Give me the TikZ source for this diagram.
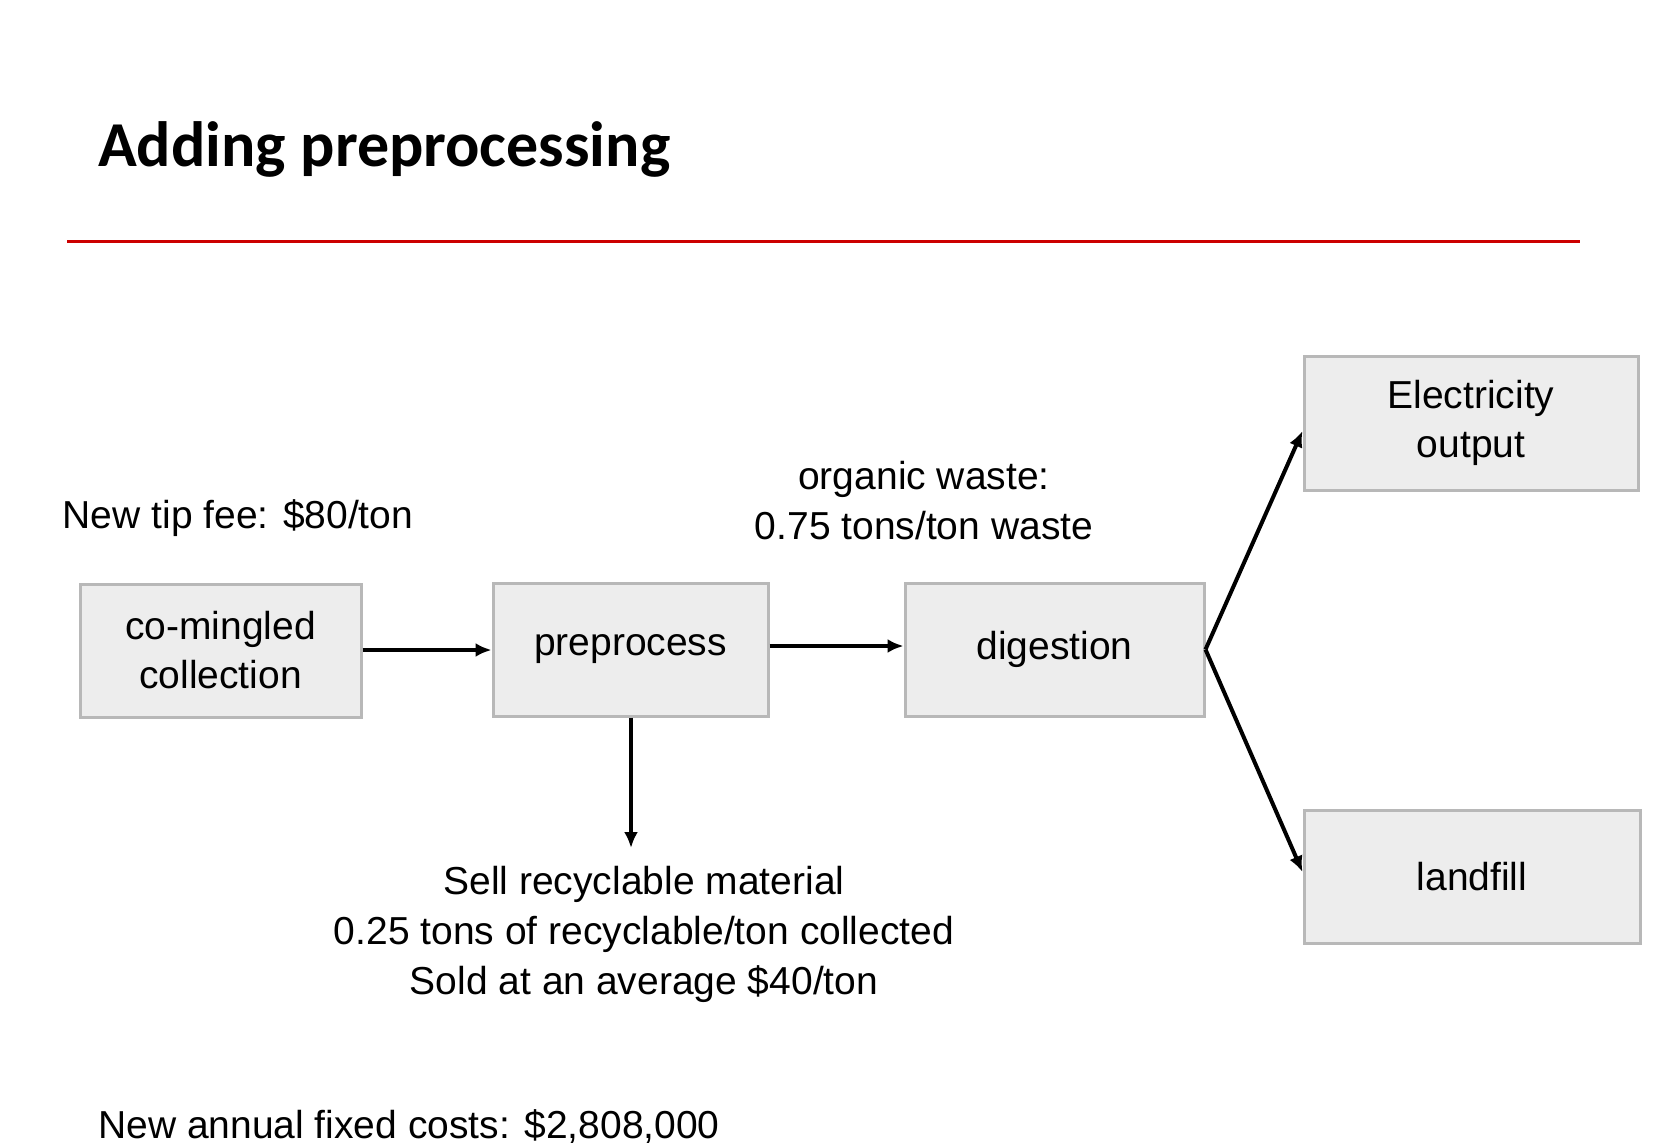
\documentclass[tikz,border=0pt]{standalone}
\usepackage{fontspec}
\setmainfont{Liberation Sans}
\newfontfamily\titlefont{Carlito}
\begin{document}
\begin{tikzpicture}[x=1pt,y=-1pt,
  box/.style={draw=black!28,fill=black!7,line width=3pt,inner sep=0pt,align=center,font=\fontsize{39}{49}\selectfont},
  lbl/.style={align=center,font=\fontsize{39}{50}\selectfont,inner sep=0pt},
  arr/.style={line width=4pt,-{Latex[length=16pt,width=14pt]}}]
\usetikzlibrary{arrows.meta}
\useasboundingbox (0,0) rectangle (1660,1148);
\node[anchor=west,font=\titlefont\bfseries\fontsize{64}{70}\selectfont,inner sep=0pt] (title) at (98,149) {Adding preprocessing};
\draw[red!80!black,line width=3pt] (67,241.5) coordinate (l1) -- (1580,241.5) coordinate (l2);
\node[box,minimum width=281pt,minimum height=133pt] (b1) at (220.5,650.5) {co-mingled\\collection};
\node[box,minimum width=275pt,minimum height=133pt] (b2) at (630.5,649.5) {preprocess};
\node[box,minimum width=299pt,minimum height=133pt] (b3) at (1054.5,649.5) {digestion};
\node[box,minimum width=334pt,minimum height=134pt] (b4) at (1471,423) {Electricity\\output};
\node[box,minimum width=336pt,minimum height=133pt] (b5) at (1472,876.5) {landfill};
\node[lbl] (tip) at (238,518) {New tip fee: \$80/ton};
\node[lbl] (org) at (924,501) {organic waste:\\0.75 tons/ton waste};
\node[lbl] (sell) at (644,934) {Sell recyclable material\\0.25 tons of recyclable/ton collected\\Sold at an average \$40/ton};
\node[lbl,anchor=west] (fixed) at (98,1127) {New annual fixed costs: \$2,808,000};
\draw[arr] (b1.east |- 0,650) -- (b2.west |- 0,650);
\draw[arr] (b2.east |- 0,646) -- (b3.west |- 0,646);
\coordinate (dn) at (631,848);
\draw[arr] (b2.south -| dn) -- (dn);
\coordinate (e4) at (b4.west |- 0,431);
\coordinate (e5) at (b5.west |- 0,872);
\draw[arr] (b3.east) -- (e4);
\draw[arr] (b3.east) -- (e5);
\end{tikzpicture}
\end{document}
